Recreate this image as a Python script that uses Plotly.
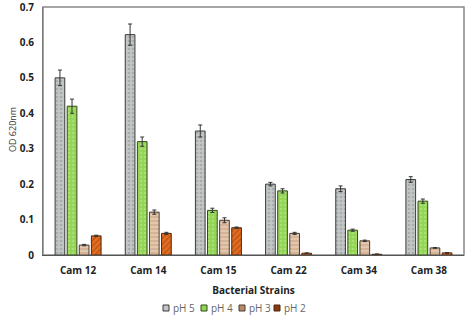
import plotly.graph_objects as go

strains = ["Cam 12", "Cam 14", "Cam 15", "Cam 22", "Cam 34", "Cam 38"]
ph5 = [0.500, 0.622, 0.350, 0.200, 0.187, 0.213]
ph5_err = [0.022, 0.030, 0.017, 0.005, 0.008, 0.008]
ph4 = [0.420, 0.320, 0.126, 0.181, 0.070, 0.152]
ph4_err = [0.020, 0.013, 0.006, 0.006, 0.003, 0.006]
ph3 = [0.028, 0.121, 0.098, 0.061, 0.040, 0.020]
ph3_err = [0.002, 0.006, 0.007, 0.003, 0.002, 0.001]
ph2 = [0.054, 0.061, 0.077, 0.005, 0.002, 0.006]
ph2_err = [0.002, 0.003, 0.002, 0.001, 0.001, 0.001]
y_ticks = [0, 0.1, 0.2, 0.3, 0.4, 0.5, 0.6, 0.7]
y_labels = ["0", "0.1", "0.2", "0.3", "0.4", "0.5", "0.6", "0.7"]

series = [
    ("pH 5", ph5, ph5_err, "#c3c6c6", "#8e9292", ".", "#3a3a3a"),
    ("pH 4", ph4, ph4_err, "#93d454", "#c2ea98", ".", "#2f4a1a"),
    ("pH 3", ph3, ph3_err, "#e2c7ad", "#b98c68", "-", "#4a3a30"),
    ("pH 2", ph2, ph2_err, "#e66d1f", "#8a3a10", "/", "#4a2a10"),
]

fig = go.Figure()
for name, vals, errs, bg, fg, shape, line in series:
    fig.add_trace(go.Bar(
        name=name, x=strains, y=vals, showlegend=False,
        marker=dict(color=bg, line=dict(color=line, width=1),
                    pattern=dict(shape=shape, fgcolor=fg, bgcolor=bg, size=4, solidity=0.35)),
        error_y=dict(type="data", array=errs, visible=True, color="#333333", thickness=1, width=2),
    ))

# plot area spans x 43..464 px, y 7..255 px
L, T, B = 43, 7, 255
W, H = 421.0, float(B - T)
legend_x_px = [163, 201, 239, 274]
shapes = [dict(type="rect", xref="paper", yref="paper", x0=0, y0=0, x1=1, y1=1,
               line=dict(color="#888888", width=1.5), layer="below")]
annotations = []
for (name, vals, errs, bg, fg, shape, line), px in zip(series, legend_x_px):
    shapes.append(dict(type="rect", xref="paper", yref="paper",
                       x0=(px - L) / W, x1=(px + 6 - L) / W,
                       y0=(B - 311) / H, y1=(B - 305) / H,
                       fillcolor=fg if shape != "." else bg, line=dict(color=line, width=1)))
    annotations.append(dict(text=name, xref="paper", yref="paper", x=(px + 8 - L) / W,
                            y=(B - 308) / H, xanchor="left", yanchor="middle", showarrow=False,
                            font=dict(size=10, color="#666666")))
annotations.append(dict(text="OD 620nm", xref="paper", yref="paper", x=(12 - L) / W,
                        y=(B - 130) / H, xanchor="center", yanchor="middle", textangle=-90,
                        showarrow=False, font=dict(size=9, color="#333333")))

fig.update_layout(
    width=474, height=324,
    margin=dict(l=L, r=10, t=T, b=324 - B, autoexpand=False),
    paper_bgcolor="white", plot_bgcolor="white",
    barmode="group", bargap=0.31, bargroupgap=0.2,
    font=dict(family="Open Sans, DejaVu Sans, sans-serif", color="#222222"),
    showlegend=False,
    xaxis=dict(
        tickfont=dict(size=10, weight="bold"),
        title=dict(text="Bacterial Strains", font=dict(size=10, weight="bold"), standoff=10),
        showline=True, linecolor="#555555", linewidth=1, mirror=False,
        ticks="outside", ticklen=6, tickcolor="rgba(0,0,0,0)", showgrid=False,
    ),
    yaxis=dict(
        range=[0, 0.7], tickmode="array", tickvals=y_ticks, ticktext=y_labels,
        ticklabeloverflow="allow",
        tickfont=dict(size=10, weight="bold"),
        showline=True, linecolor="#777777", linewidth=1, mirror=False,
        showgrid=False, ticks="outside", ticklen=6, tickcolor="rgba(0,0,0,0)", zeroline=False,
    ),
    shapes=shapes,
    annotations=annotations,
)

fig.write_html("out.html")
